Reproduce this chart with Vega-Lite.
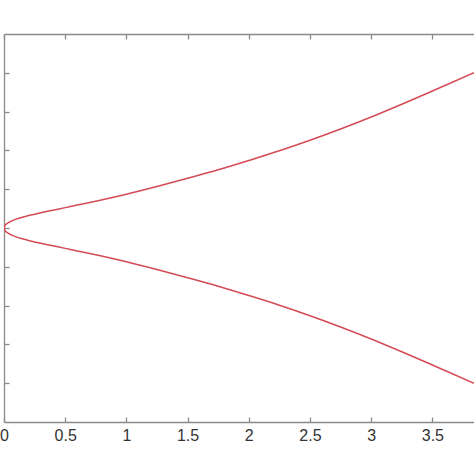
{
  "$schema": "https://vega.github.io/schema/vega-lite/v6.json",
  "autosize": "none",
  "width": 470,
  "height": 388,
  "padding": {"left": 4, "top": 34, "right": 0, "bottom": 52},
  "background": "white",
  "data": {
    "values": [
      {"branch": "upper", "x": 0, "y": 0},
      {"branch": "upper", "x": 0.01, "y": 0.072},
      {"branch": "upper", "x": 0.03, "y": 0.125},
      {"branch": "upper", "x": 0.06, "y": 0.176},
      {"branch": "upper", "x": 0.1, "y": 0.228},
      {"branch": "upper", "x": 0.15, "y": 0.279},
      {"branch": "upper", "x": 0.2, "y": 0.32},
      {"branch": "upper", "x": 0.3, "y": 0.395},
      {"branch": "upper", "x": 0.4, "y": 0.46},
      {"branch": "upper", "x": 0.5, "y": 0.525},
      {"branch": "upper", "x": 0.6, "y": 0.59},
      {"branch": "upper", "x": 0.75, "y": 0.69},
      {"branch": "upper", "x": 1.0, "y": 0.87},
      {"branch": "upper", "x": 1.25, "y": 1.07},
      {"branch": "upper", "x": 1.5, "y": 1.28},
      {"branch": "upper", "x": 1.75, "y": 1.5},
      {"branch": "upper", "x": 2.0, "y": 1.74},
      {"branch": "upper", "x": 2.25, "y": 1.99},
      {"branch": "upper", "x": 2.5, "y": 2.26},
      {"branch": "upper", "x": 2.75, "y": 2.55},
      {"branch": "upper", "x": 3.0, "y": 2.86},
      {"branch": "upper", "x": 3.25, "y": 3.19},
      {"branch": "upper", "x": 3.5, "y": 3.53},
      {"branch": "upper", "x": 3.84, "y": 4.0},
      {"branch": "lower", "x": 0, "y": 0},
      {"branch": "lower", "x": 0.01, "y": -0.072},
      {"branch": "lower", "x": 0.03, "y": -0.125},
      {"branch": "lower", "x": 0.06, "y": -0.176},
      {"branch": "lower", "x": 0.1, "y": -0.228},
      {"branch": "lower", "x": 0.15, "y": -0.279},
      {"branch": "lower", "x": 0.2, "y": -0.32},
      {"branch": "lower", "x": 0.3, "y": -0.395},
      {"branch": "lower", "x": 0.4, "y": -0.46},
      {"branch": "lower", "x": 0.5, "y": -0.525},
      {"branch": "lower", "x": 0.6, "y": -0.59},
      {"branch": "lower", "x": 0.75, "y": -0.69},
      {"branch": "lower", "x": 1.0, "y": -0.87},
      {"branch": "lower", "x": 1.25, "y": -1.07},
      {"branch": "lower", "x": 1.5, "y": -1.28},
      {"branch": "lower", "x": 1.75, "y": -1.5},
      {"branch": "lower", "x": 2.0, "y": -1.74},
      {"branch": "lower", "x": 2.25, "y": -1.99},
      {"branch": "lower", "x": 2.5, "y": -2.26},
      {"branch": "lower", "x": 2.75, "y": -2.55},
      {"branch": "lower", "x": 3.0, "y": -2.86},
      {"branch": "lower", "x": 3.25, "y": -3.19},
      {"branch": "lower", "x": 3.5, "y": -3.53},
      {"branch": "lower", "x": 3.84, "y": -4.0}
    ]
  },
  "layer": [
    {
      "mark": {"type": "line", "color": "#d44a55", "strokeWidth": 1.5, "interpolate": "monotone", "clip": true},
      "encoding": {
        "x": {
          "field": "x",
          "type": "quantitative",
          "scale": {"domain": [0, 3.84], "nice": false, "zero": false},
          "axis": {
            "orient": "bottom",
            "title": null,
            "values": [0, 0.5, 1, 1.5, 2, 2.5, 3, 3.5],
            "format": "~g",
            "grid": false,
            "tickSize": -5,
            "labelFlush": false,
            "labelPadding": 10
          }
        },
        "y": {
          "field": "y",
          "type": "quantitative",
          "scale": {"domain": [-5, 5], "nice": false},
          "axis": {
            "title": null,
            "values": [-4, -3, -2, -1, 0, 1, 2, 3, 4],
            "labels": false,
            "grid": false,
            "tickSize": -5
          }
        },
        "detail": {"field": "branch"},
        "order": {"field": "x", "type": "quantitative"}
      }
    },
    {
      "mark": {"type": "rule", "opacity": 0},
      "encoding": {
        "x": {
          "datum": 0,
          "type": "quantitative",
          "scale": {"domain": [0, 3.84], "nice": false, "zero": false},
          "axis": {
            "orient": "top",
            "title": null,
            "values": [0, 0.5, 1, 1.5, 2, 2.5, 3, 3.5],
            "labels": false,
            "grid": false,
            "tickSize": -5
          }
        }
      }
    }
  ],
  "resolve": {"axis": {"x": "independent"}},
  "config": {
    "view": {"stroke": null},
    "axis": {
      "domainColor": "#8a8a8a",
      "domainWidth": 1.3,
      "tickColor": "#8a8a8a",
      "tickWidth": 1.3,
      "labelFont": "Liberation Sans",
      "labelFontSize": 16,
      "labelColor": "#333333"
    }
  }
}
